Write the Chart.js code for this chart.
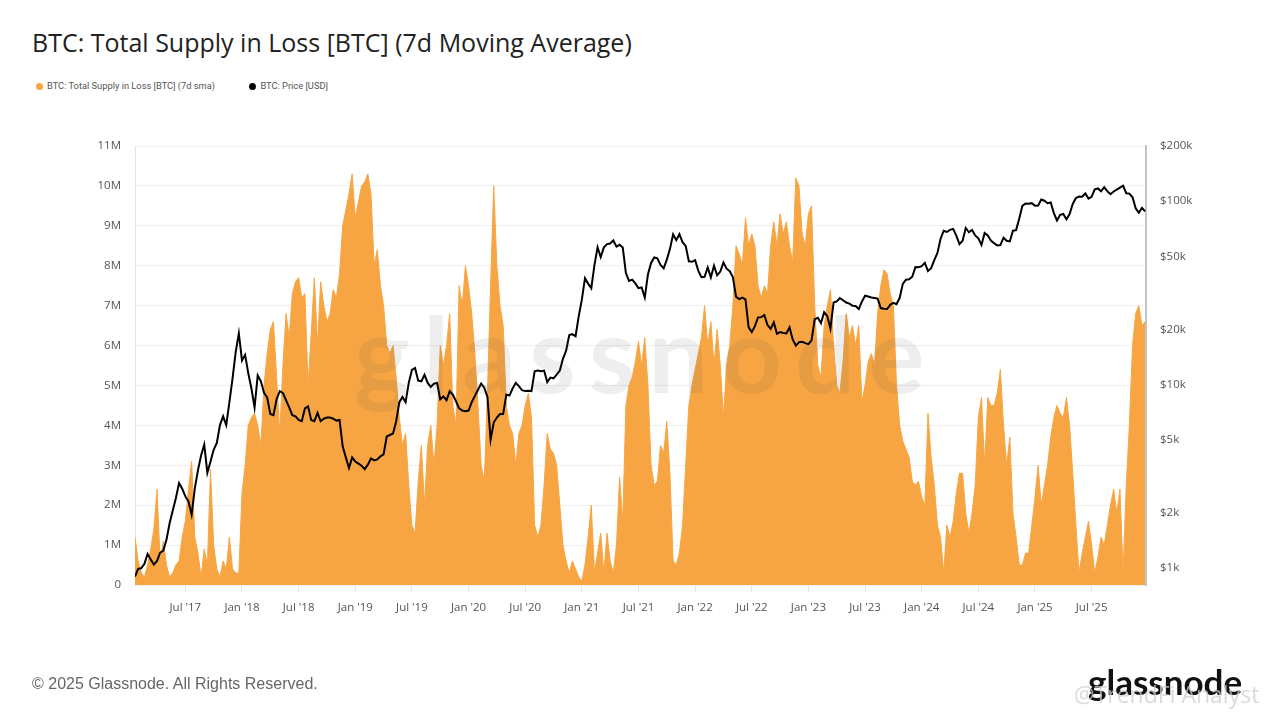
<!DOCTYPE html>
<html>
<head>
<meta charset="utf-8">
<script src="https://cdn.jsdelivr.net/npm/chart.js@4.4.1/dist/chart.umd.min.js"></script>
<style>
  html, body { margin: 0; padding: 0; background: #fff; }
  #page { position: relative; width: 1280px; height: 720px; overflow: hidden; font-family: "Open Sans", sans-serif; }
  #title { position: absolute; left: 32px; top: 25px; font-family: "Open Sans", sans-serif; font-size: 25px; color: #222; white-space: nowrap; }
  #legend { position: absolute; left: 36px; top: 80px; font-family: Roboto, sans-serif; font-size: 9.3px; color: #555; white-space: nowrap; }
  #legend span.item { margin-right: 32px; }
  #legend i { display: inline-block; width: 7px; height: 7px; border-radius: 50%; margin-right: 4px; vertical-align: -0.5px; }
  #chart { position: absolute; left: 0; top: 0; }
  #mark { position: absolute; left: 354px; top: 288px; font-family: Lato, sans-serif; font-weight: 700; font-size: 106px; letter-spacing: 13px; color: rgba(70,70,70,0.09); pointer-events: none; }
  #footer { position: absolute; left: 32px; top: 675px; font-family: "Liberation Sans", Arial, sans-serif; font-size: 16px; color: #666; }
  #logo { position: absolute; left: 1088px; top: 660px; font-family: Lato, sans-serif; font-weight: 700; font-size: 35px; color: #111; }
  #stamp { position: absolute; left: 1074px; top: 678px; font-family: "Open Sans", sans-serif; font-size: 23px; color: rgba(205,205,205,0.75); white-space: nowrap; }
</style>
</head>
<body>
<div id="page">
  <div id="title">BTC: Total Supply in Loss [BTC] (7d Moving Average)</div>
  <div id="legend">
    <span class="item"><i style="background:#f7a543"></i>BTC: Total Supply in Loss [BTC] (7d sma)</span>
    <span class="item"><i style="background:#000"></i>BTC: Price [USD]</span>
  </div>
  <canvas id="chart" width="1280" height="720"></canvas>
  <div id="mark">glassnode</div>
  <div id="footer">© 2025 Glassnode. All Rights Reserved.</div>
  <div id="logo">glassnode</div>
  <div id="stamp">@TrendFi Analyst</div>
</div>
<script>
// x axis: months since Jan 2017, samples on the 20th, 1st and 10th (3 per month)
var months = [];
for (var i = 0; i < 322; i++) months.push((i + 2) / 3);

var tickMonths = [6, 12, 18, 24, 30, 36, 42, 48, 54, 60, 66, 72, 78, 84, 90, 96, 102];
var tickLabels = ["Jul '17", "Jan '18", "Jul '18", "Jan '19", "Jul '19", "Jan '20", "Jul '20", "Jan '21",
  "Jul '21", "Jan '22", "Jul '22", "Jan '23", "Jul '23", "Jan '24", "Jul '24", "Jan '25", "Jul '25"];

var priceTicks = [1000, 2000, 5000, 10000, 20000, 50000, 100000, 200000];

// total supply in loss, millions of BTC
var supplyLoss = [
  1.2,0.6,0.3, 0.2,0.5,0.9, 1.4,2.4,0.6, 1.1,0.5,0.2, 0.3,0.5,0.6, 1.2,1.6,2.4, 3.1,1.2,0.8, 0.2,0.9,0.5, 2.9,1.0,0.4, 0.2,0.6,0.4, 1.2,0.4,0.3, 0.3,2.3,3.0,
  4.0,4.2,4.3, 4.0,3.5,5.0, 5.8,6.4,6.6, 5.2,3.8,5.5, 6.8,6.2,7.3, 7.6,7.7,7.2, 7.3,5.0,6.3, 7.7,6.0,7.6, 7.0,6.6,6.8, 7.4,7.2,7.8, 9.0,9.4,9.8, 10.3,9.2,9.6,
  10.0,10.1,10.3, 9.8,8.0,8.4, 7.5,7.0,6.0, 5.8,6.0,5.2, 4.2,3.5,3.8, 2.5,1.5,1.3, 2.6,3.5,2.0, 3.5,4.0,3.0, 4.0,6.0,5.5, 6.0,6.8,4.5, 4.0,7.5,7.0, 8.0,7.5,6.8,
  5.8,4.5, 3.0,2.6,4.8, 7.5,10.0,8.0, 7.0,6.5,4.5, 4.0,3.8,3.0, 3.8,4.0,4.5, 4.8,4.2,1.5, 1.2,1.5,2.5, 3.8,3.4,3.3, 3.0,2.0,1.0, 0.6,0.3,0.6, 0.4,0.2,0.1,
  0.5,1.2,2.0, 0.3,0.8,1.3, 0.3,1.3,0.6, 0.3,1.0,2.7, 1.6,4.5,5.0, 5.2,5.6,6.1, 5.5,6.2,5.0, 3.0,2.5,2.6, 3.5,3.3,4.1, 2.8,0.6,0.5, 0.8,1.5,3.0, 4.5,5.0,5.4,
  5.8,6.2,7.0, 6.0,6.6,5.5, 6.4,5.5,4.2, 5.5,6.0,7.0, 8.5,8.3,8.0, 9.2,8.5,8.8, 8.5,7.5,7.2, 7.5,7.3,8.5, 9.1,8.5,9.3, 8.8,9.1,8.5, 8.1,10.2,10.0, 8.8,8.5,9.3,
  9.5,7.0,5.5, 5.2,6.5, 7.0,7.4,6.0, 5.0,4.8,5.6, 6.8,6.2,6.5, 6.0,6.5,4.6, 5.0,5.6,5.8, 5.5,6.8,7.5, 7.9,7.8,7.3, 7.0,5.0,4.0, 3.6,3.4,3.2, 2.6,2.5,2.6,
  2.2,2.0,4.3, 3.2,2.5,1.5, 1.2,0.3,1.5, 1.2,1.6,2.3, 2.8,2.8,1.8, 1.3,1.8,2.5, 4.2,4.7,3.0, 4.7,4.5,4.5, 4.8,5.4,4.0, 3.0,3.7,1.8, 1.2,0.5,0.5, 0.8,0.8,1.5,
  2.2,3.0,2.0, 2.5,3.0,3.7, 4.2,4.5,4.3, 4.2,4.7,4.0, 2.8,1.5,0.3, 0.8,1.2,1.6, 1.0,0.3,0.7, 1.2,1.0,1.5, 2.0,2.4,1.8, 2.4,0.3,2.5, 4.0,6.0,6.8, 7.0,6.5,6.6
];

// BTC price, USD
var price = [
  895,
  985,995,1050, 1190,1110,1040, 1090,1210,1240, 1420,1750,2050, 2400,2900,2700, 2450,2300,1950,
  2700,3400,4100, 4700,3300,3800, 4400,4800,6000, 6700,6000,8000, 10800,15000,19000,
  13500,14500,11500, 9500,7500,11200, 10400,9000,8500, 6900,6800,8300, 9200,9000,8200, 7500,6800,6700,
  6400,6300,7400, 7600,6400,6300, 7000,6300,6500, 6600,6600,6500, 6350,6400,4600, 4000,3500,4000,
  3800,3700,3600, 3450,3650,3950, 3850,3900,4050, 4150,5200,5300, 5400,6300,8000, 8550,8000,10200,
  12000,12300,10500, 10400,11300,10200, 9700,10100,10200, 8300,8600,8200, 9200,8800,8100, 7400,7200,7150,
  7200,8000,8650, 9350,10100,9600, 8550,5000,6200, 6600,6900,6900, 8800,8700,9500, 10200,9800,9300,
  9200,9250,9200, 11800,11900,11800, 11900,10300,10900, 10800,11300,11900, 13800,15300,18600, 18800,18300,23500,
  29000,38000,35500, 33500,44800,56000, 49600,56000,58300, 58700,61000,56500, 57800,55800,40500, 36700,37300,35600,
  33500,33800,29800, 39800,46000,49300, 48800,44900,43000, 48000,54900,65900, 61300,66000,59700, 57000,47000,46700,
  47700,41800,38500, 38700,43500,38400, 44400,39400,41300, 46300,42800,41500, 38500,30100,29200, 29800,29100,20500,
  19300,20800,23200, 23300,23900,21100, 20100,21800,18900, 19300,19100,19000, 20500,17600,16300, 17000,17100,16800,
  16600,17400,22700, 23100,21600,24800, 23600,20200,28000, 28400,29600,28800, 28000,27600,26900, 26800,25800,28300,
  30500,30200,29800, 29600,29400,26100, 25900,25800,27200, 27900,27400,29700, 35400,37300,37500, 38700,43700,43600,
  44200,46100,41600, 43100,47700,52200, 62400,69000,67900, 69700,70600,64900, 58300,60800,71400, 67700,69600,65000,
  62700,57700,67100, 65000,60900,59000, 57300,57600,63200, 60800,60300,69000, 69500,80400,94300, 97200,96700,97500,
  94400,94600,102000, 100600,97400,98300, 86000,78500,84200, 85200,79600,85100, 96500,104000,106000, 105700,110200,103300,
  105700,116000,117300, 113300,119300,113300, 109200,113000,115700, 118600,121500,110500, 110000,105000,91500, 86500,92000,88000
];

var supplyPoints = supplyLoss.map(function(v, i) { return { x: months[i], y: v }; });
var pricePoints = price.map(function(v, i) { return { x: months[i], y: v }; });

var tickFont = { family: "'Open Sans', sans-serif", size: 11.5 };

new Chart(document.getElementById('chart'), {
  type: 'line',
  data: {
    datasets: [{
      label: 'BTC: Price [USD]',
      data: pricePoints,
      yAxisID: 'price',
      borderColor: '#000',
      borderWidth: 2,
      pointRadius: 0,
      tension: 0,
      fill: false,
      order: 0
    }, {
      label: 'BTC: Total Supply in Loss [BTC] (7d sma)',
      data: supplyPoints,
      yAxisID: 'supply',
      borderColor: '#f7a543',
      backgroundColor: '#f7a543',
      borderWidth: 1,
      pointRadius: 0,
      tension: 0,
      fill: 'origin',
      order: 1
    }]
  },
  options: {
    responsive: false,
    animation: false,
    layout: { padding: { left: 0, right: 0, top: 146, bottom: 95 } },
    plugins: { legend: { display: false }, tooltip: { enabled: false } },
    scales: {
      x: {
        type: 'linear',
        min: 0.667,
        max: 107.76,
        afterFit: function(scale) { scale.height = 40; },
        afterBuildTicks: function(scale) {
          scale.ticks = tickMonths.map(function(m) { return { value: m }; });
        },
        ticks: {
          autoSkip: false,
          maxRotation: 0,
          padding: 9,
          color: '#555',
          font: tickFont,
          callback: function(value, index) { return tickLabels[index]; }
        },
        grid: { drawOnChartArea: false, drawTicks: true, tickLength: 7, color: '#e6e6e6' },
        border: { display: false }
      },
      supply: {
        type: 'linear',
        position: 'left',
        min: 0,
        max: 11,
        afterFit: function(scale) { scale.width = 135; },
        ticks: {
          stepSize: 1,
          padding: 14,
          color: '#555',
          font: tickFont,
          callback: function(v) { return v === 0 ? '0' : v + 'M'; }
        },
        grid: { color: '#efefef', drawTicks: false },
        border: { color: '#f3e3cc', width: 1 }
      },
      price: {
        type: 'logarithmic',
        position: 'right',
        min: 805,
        max: 200000,
        afterFit: function(scale) { scale.width = 134; },
        afterBuildTicks: function(scale) {
          scale.ticks = priceTicks.map(function(p) { return { value: p }; });
        },
        ticks: {
          autoSkip: false,
          padding: 14,
          color: '#555',
          font: tickFont,
          callback: function(v) { return '$' + (v / 1000) + 'k'; }
        },
        grid: { drawOnChartArea: false, drawTicks: false },
        border: { color: '#c4c4c4', width: 2 }
      }
    }
  }
});
</script>
</body>
</html>
